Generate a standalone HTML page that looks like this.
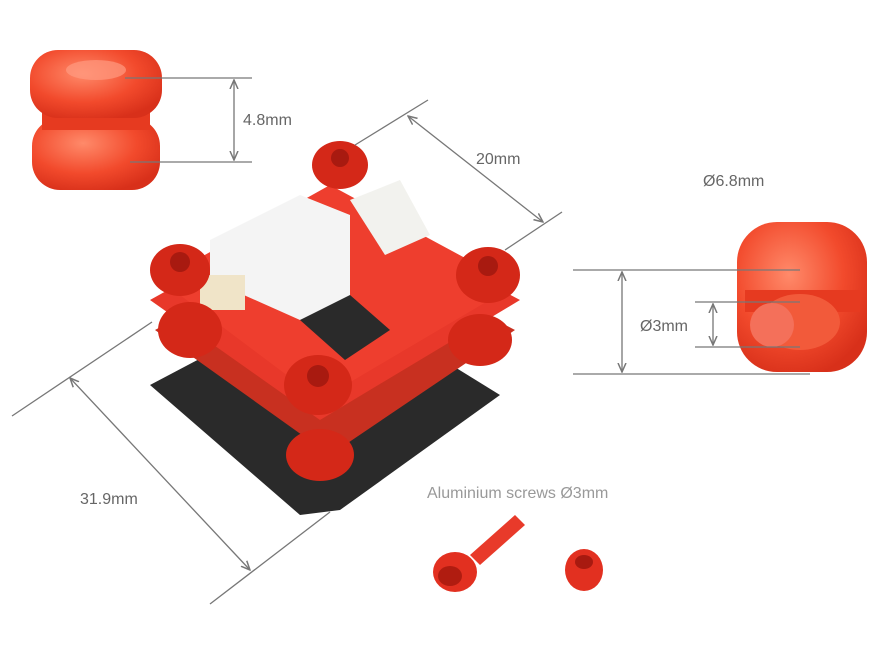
<!DOCTYPE html>
<html><head><meta charset="utf-8"><style>
html,body{margin:0;padding:0;background:#fff;}
svg{display:block}
text{font-family:"Liberation Sans",sans-serif;fill:#666;font-size:16px}
</style></head><body>
<svg width="885" height="664" viewBox="0 0 885 664" xmlns="http://www.w3.org/2000/svg">
<defs>
<marker id="a" markerWidth="10" markerHeight="10" refX="9" refY="5" orient="auto-start-reverse" markerUnits="userSpaceOnUse">
<path d="M0,1 L9,5 L0,9" fill="none" stroke="#777" stroke-width="1.5"/></marker>
<radialGradient id="rg" cx="0.4" cy="0.35" r="0.7"><stop offset="0" stop-color="#ff8a6a"/><stop offset="0.6" stop-color="#f24a2c"/><stop offset="1" stop-color="#d8301a"/></radialGradient>
</defs>
<rect width="885" height="664" fill="#fff"/>

<!-- top-left grommet -->
<rect x="32" y="118" width="128" height="72" rx="28" fill="url(#rg)"/>
<rect x="42" y="108" width="108" height="22" fill="#e63a20"/>
<rect x="30" y="50" width="132" height="68" rx="28" fill="url(#rg)"/>
<ellipse cx="96" cy="70" rx="30" ry="10" fill="#ff9a80" opacity="0.7"/>
<g stroke="#777" stroke-width="1.3" fill="none">
<line x1="125" y1="78" x2="252" y2="78"/>
<line x1="130" y1="162" x2="252" y2="162"/>
<line x1="234" y1="80" x2="234" y2="160" marker-start="url(#a)" marker-end="url(#a)"/>
</g>
<text x="243" y="125">4.8mm</text>

<!-- right grommet -->
<rect x="737" y="222" width="130" height="150" rx="40" fill="url(#rg)"/>
<rect x="745" y="290" width="115" height="22" fill="#e63a20"/>
<ellipse cx="800" cy="322" rx="40" ry="28" fill="#f25a3a"/>
<ellipse cx="772" cy="325" rx="22" ry="22" fill="#f4705a"/>
<g stroke="#777" stroke-width="1.3" fill="none">
<line x1="573" y1="270" x2="800" y2="270"/>
<line x1="573" y1="374" x2="810" y2="374"/>
<line x1="622" y1="272" x2="622" y2="372" marker-start="url(#a)" marker-end="url(#a)"/>
<line x1="695" y1="302" x2="800" y2="302"/>
<line x1="695" y1="347" x2="800" y2="347"/>
<line x1="713" y1="304" x2="713" y2="345" marker-start="url(#a)" marker-end="url(#a)"/>
</g>
<text x="640" y="331">Ø3mm</text>
<text x="703" y="186">Ø6.8mm</text>

<!-- boards -->
<polygon points="150,385 330,290 500,395 340,510 300,515" fill="#2a2a2a"/>
<polygon points="155,330 330,235 515,330 330,455" fill="#c83020"/>
<polygon points="150,300 330,200 520,300 320,420" fill="#e8382a"/>
<polygon points="160,280 330,185 515,285 320,400" fill="#ee3e2e"/>
<polygon points="210,240 300,195 350,215 350,300 300,320 210,280" fill="#f4f4f4"/>
<polygon points="300,320 350,295 390,330 345,360" fill="#2a2a2a"/>
<polygon points="350,200 400,180 430,235 385,255" fill="#f2f2ee"/>
<rect x="200" y="275" width="45" height="35" fill="#f0e4c8"/>
<!-- standoffs -->
<g fill="#d42818">
<ellipse cx="180" cy="270" rx="30" ry="26"/>
<ellipse cx="340" cy="165" rx="28" ry="24"/>
<ellipse cx="488" cy="275" rx="32" ry="28"/>
<ellipse cx="318" cy="385" rx="34" ry="30"/>
<ellipse cx="190" cy="330" rx="32" ry="28"/>
<ellipse cx="480" cy="340" rx="32" ry="26"/>
<ellipse cx="320" cy="455" rx="34" ry="26"/>
</g>
<g fill="#a81a10">
<circle cx="180" cy="262" r="10"/><circle cx="340" cy="158" r="9"/>
<circle cx="488" cy="266" r="10"/><circle cx="318" cy="376" r="11"/>
</g>

<!-- dimension lines -->
<g stroke="#777" stroke-width="1.3" fill="none">
<line x1="355" y1="145" x2="428" y2="100"/>
<line x1="505" y1="250" x2="562" y2="212"/>
<line x1="408" y1="116" x2="543" y2="222" marker-start="url(#a)" marker-end="url(#a)"/>
<line x1="12" y1="416" x2="152" y2="322"/>
<line x1="210" y1="604" x2="330" y2="512"/>
<line x1="70" y1="378" x2="250" y2="570" marker-start="url(#a)" marker-end="url(#a)"/>
</g>
<text x="476" y="164">20mm</text>
<text x="80" y="504">31.9mm</text>
<text x="427" y="498" style="fill:#999">Aluminium screws Ø3mm</text>

<!-- screw -->
<polygon points="470,555 515,515 525,525 480,565" fill="#e83a2a"/>
<ellipse cx="455" cy="572" rx="22" ry="20" fill="#e23020"/>
<ellipse cx="450" cy="576" rx="12" ry="10" fill="#b01c10"/>
<!-- nut -->
<ellipse cx="584" cy="570" rx="19" ry="21" fill="#e23020"/>
<ellipse cx="584" cy="562" rx="9" ry="7" fill="#a81a10"/>
</svg>
</body></html>
